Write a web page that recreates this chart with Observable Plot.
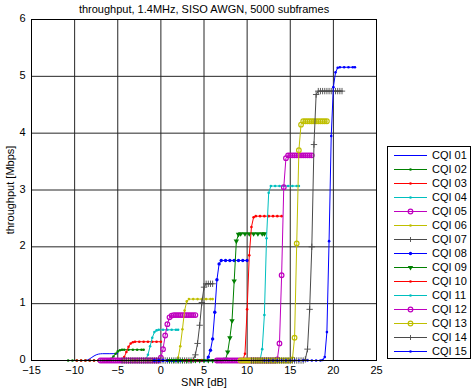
<!DOCTYPE html>
<html>
<head>
<meta charset="utf-8">
<script src="https://cdn.jsdelivr.net/npm/d3@7"></script>
<script src="https://cdn.jsdelivr.net/npm/@observablehq/plot@0.6"></script>
<style>
  html, body { margin: 0; padding: 0; background: white; }
  #wrap { position: relative; width: 474px; height: 391px; }
  #wrap svg { display: block; }
  #legend { position: absolute; left: 387px; top: 146px; }
</style>
</head>
<body>
<div id="wrap"></div>
<script>
// ---- data ----
const cqiNames = ["CQI 01","CQI 02","CQI 03","CQI 04","CQI 05","CQI 06","CQI 07","CQI 08","CQI 09","CQI 10","CQI 11","CQI 12","CQI 13","CQI 14","CQI 15"];
const xTicks = [-15, -10, -5, 0, 5, 10, 15, 20, 25];
const yTicks = [0, 1, 2, 3, 4, 5, 6];

// [SNR dB, throughput Mbps]
const cqi01 = [[-15,0],[-14,0],[-13,0],[-12,0],[-11,0],[-10,0],[-9,0],[-8.75,0.002],[-8.5,0.01],[-8.25,0.03],[-8,0.055],[-7.75,0.08],[-7.5,0.1],[-7.25,0.112],[-7,0.118],[-6.75,0.12],[-6,0.12],[-5,0.12]];
const cqi02 = [[-10.75,0],[-10.25,0],[-9.75,0],[-9.25,0],[-8.75,0],[-8.25,0],[-7.75,0],[-7.25,0],[-6.75,0],[-6.25,0],[-6,0.01],[-5.75,0.03],[-5.5,0.07],[-5.25,0.12],[-5,0.16],[-4.75,0.18],[-4.5,0.188],[-4.25,0.19],[-3.75,0.19],[-3.25,0.19],[-2.75,0.19],[-2.25,0.19],[-2,0.19]];
const cqi03 = [[-9.75,0],[-9.25,0],[-8.75,0],[-8.25,0],[-7.75,0],[-7.25,0],[-6.75,0],[-6.25,0],[-5.75,0],[-5.25,0],[-4.75,0],[-4.5,0.01],[-4.25,0.06],[-4,0.15],[-3.75,0.24],[-3.5,0.3],[-3.25,0.32],[-3,0.33],[-2.5,0.33],[-2,0.33],[-1.5,0.33],[-1,0.33],[-0.5,0.33],[0,0.33]];
const cqi04 = [[-7,0],[-6.5,0],[-6,0],[-5.5,0],[-5,0],[-4.5,0],[-4,0],[-3.5,0],[-3,0],[-2.5,0],[-2,0],[-1.75,0.02],[-1.5,0.1],[-1.25,0.25],[-1,0.4],[-0.75,0.5],[-0.5,0.53],[-0.25,0.54],[0.25,0.54],[0.75,0.54],[1.25,0.54],[1.75,0.54],[2,0.54]];
const cqi05 = [[-7,0],[-6.75,0],[-6.5,0],[-6.25,0],[-6,0],[-5.75,0],[-5.5,0],[-5.25,0],[-5,0],[-4.75,0],[-4.5,0],[-4.25,0],[-4,0],[-3.75,0],[-3.5,0],[-3.25,0],[-3,0],[-2.75,0],[-2.5,0],[-2.25,0],[-2,0],[-1.75,0],[-1.5,0],[-1.25,0],[-1,0],[-0.75,0],[-0.5,0],[-0.25,0],[0,0.05],[0.25,0.2],[0.5,0.44],[0.75,0.64],[1,0.76],[1.25,0.79],[1.5,0.8],[1.75,0.8],[2,0.8],[2.25,0.8],[2.5,0.8],[2.75,0.8],[3,0.8],[3.25,0.8],[3.5,0.8],[3.75,0.8],[4,0.8]];
const cqi06 = [[-4.25,0],[-3.75,0],[-3.25,0],[-2.75,0],[-2.25,0],[-1.75,0],[-1.25,0],[-0.75,0],[-0.25,0],[0.25,0],[0.75,0],[1.25,0],[1.75,0],[2,0.05],[2.25,0.25],[2.5,0.55],[2.75,0.88],[3,1.04],[3.25,1.08],[3.75,1.08],[4.25,1.08],[4.75,1.08],[5.25,1.08],[5.75,1.08],[6,1.08]];
const cqi07 = [[-4.5,0],[-4.25,0],[-4,0],[-3.75,0],[-3.5,0],[-3.25,0],[-3,0],[-2.75,0],[-2.5,0],[-2.25,0],[-2,0],[-1.75,0],[-1.5,0],[-1.25,0],[-1,0],[-0.75,0],[-0.5,0],[-0.25,0],[0,0],[0.25,0],[0.5,0],[0.75,0],[1,0],[1.25,0],[1.5,0],[1.75,0],[2,0],[2.25,0],[2.5,0],[2.75,0],[3,0],[3.25,0],[3.5,0],[3.75,0.01],[4,0.1],[4.25,0.3],[4.5,0.62],[4.75,1.02],[5,1.29],[5.25,1.35],[5.5,1.35],[5.75,1.35],[6,1.35]];
const cqi08 = [[-0.75,0],[-0.25,0],[0.25,0],[0.75,0],[1.25,0],[1.75,0],[2.25,0],[2.75,0],[3.25,0],[3.75,0],[4.25,0],[4.75,0],[5.25,0],[5.5,0.06],[5.75,0.18],[6,0.38],[6.25,0.85],[6.5,1.42],[6.75,1.7],[7,1.76],[7.5,1.76],[8,1.76],[8.5,1.76],[9,1.76],[9.5,1.76],[10,1.76]];
const cqi09 = [[1,0],[1.5,0],[2,0],[2.5,0],[3,0],[3.5,0],[4,0],[4.5,0],[5,0],[5.5,0],[6,0],[6.5,0],[7,0],[7.5,0.02],[7.75,0.15],[8,0.4],[8.25,0.7],[8.5,1.4],[8.75,2.1],[9,2.22],[9.25,2.23],[9.75,2.23],[10.25,2.23],[10.75,2.23],[11.25,2.23],[11.75,2.23],[12,2.23]];
const cqi10 = [[2.75,0],[3.25,0],[3.75,0],[4.25,0],[4.75,0],[5.25,0],[5.75,0],[6.25,0],[6.75,0],[7.25,0],[7.75,0],[8.25,0],[8.75,0],[9.25,0],[9.5,0.01],[9.75,0.12],[10,0.9],[10.25,1.85],[10.5,2.35],[10.75,2.52],[11,2.54],[11.5,2.54],[12,2.54],[12.5,2.54],[13,2.54],[13.5,2.54],[14,2.54]];
const cqi11 = [[5.25,0],[5.75,0],[6.25,0],[6.75,0],[7.25,0],[7.75,0],[8.25,0],[8.75,0],[9.25,0],[9.75,0],[10.25,0],[10.75,0],[11.25,0],[11.5,0.01],[11.75,0.2],[12,0.8],[12.25,2.15],[12.5,2.95],[12.75,3.07],[13.25,3.07],[13.75,3.07],[14.25,3.07],[14.75,3.07],[15.25,3.07],[15.75,3.07],[16,3.07]];
const cqi12 = [[6.5,0],[6.75,0],[7,0],[7.25,0],[7.5,0],[7.75,0],[8,0],[8.25,0],[8.5,0],[8.75,0],[9,0],[9.25,0],[9.5,0],[9.75,0],[10,0],[10.25,0],[10.5,0],[10.75,0],[11,0],[11.25,0],[11.5,0],[11.75,0],[12,0],[12.25,0],[12.5,0],[12.75,0],[13,0],[13.25,0],[13.5,0.02],[13.75,0.3],[14,1.5],[14.25,3.05],[14.5,3.56],[14.75,3.61],[15,3.61],[15.25,3.61],[15.5,3.61],[15.75,3.61],[16,3.61],[16.25,3.61],[16.5,3.61],[16.75,3.61],[17,3.61],[17.25,3.61],[17.5,3.61]];
const cqi13 = [[9.25,0],[9.5,0],[9.75,0],[10,0],[10.25,0],[10.5,0],[10.75,0],[11,0],[11.25,0],[11.5,0],[11.75,0],[12,0],[12.25,0],[12.5,0],[12.75,0],[13,0],[13.25,0],[13.5,0],[13.75,0],[14,0],[14.25,0],[14.5,0],[14.75,0],[15,0],[15.25,0.02],[15.5,0.4],[15.75,2.06],[16,3.7],[16.25,4.15],[16.5,4.21],[16.75,4.21],[17,4.21],[17.25,4.21],[17.5,4.21],[17.75,4.21],[18,4.21],[18.25,4.21],[18.5,4.21],[18.75,4.21],[19,4.21],[19.25,4.21]];
const cqi14 = [[10.5,0],[10.75,0],[11,0],[11.25,0],[11.5,0],[11.75,0],[12,0],[12.25,0],[12.5,0],[12.75,0],[13,0],[13.25,0],[13.5,0],[13.75,0],[14,0],[14.25,0],[14.5,0],[14.75,0],[15,0],[15.25,0],[15.5,0],[15.75,0],[16,0],[16.25,0],[16.5,0],[16.75,0.02],[17,0.2],[17.25,0.9],[17.5,2.0],[17.75,3.8],[18,4.68],[18.25,4.74],[18.5,4.74],[18.75,4.74],[19,4.74],[19.25,4.74],[19.5,4.74],[19.75,4.74],[20,4.74],[20.25,4.74],[20.5,4.74],[20.75,4.74],[21,4.74]];
const cqi15 = [[12,0],[12.5,0],[13,0],[13.5,0],[14,0],[14.5,0],[15,0],[15.5,0],[16,0],[16.5,0],[17,0],[17.5,0],[18,0],[18.5,0],[18.75,0.01],[19,0.06],[19.25,0.5],[19.5,2.1],[19.75,3.95],[20,4.81],[20.25,5.07],[20.5,5.15],[20.75,5.16],[21.25,5.16],[21.75,5.16],[22.25,5.16],[22.5,5.16]];

const seriesData = [cqi01,cqi02,cqi03,cqi04,cqi05,cqi06,cqi07,cqi08,cqi09,cqi10,cqi11,cqi12,cqi13,cqi14,cqi15];

// ---- styles ----
const colors = ["#0000ff","#008000","#ff0000","#00bfbf","#bf00bf","#bfbf00","#4a4a4a","#0000ff","#008000","#ff0000","#00bfbf","#bf00bf","#bfbf00","#4a4a4a","#0000ff"];
const markers = ["none","point","point","point","circle","point","plus","bigpoint","tridown","point","point","circle","circle","plus","point"];
const FONT = "'Liberation Sans', Arial, Helvetica, sans-serif";

function markerOpts(kind, color) {
  switch (kind) {
    case "point": return {r: 1.3, fill: color, stroke: null};
    case "bigpoint": return {r: 1.7, fill: color, stroke: null};
    case "circle": return {r: 2.3, fill: "none", stroke: color, strokeWidth: 1.2};
    case "plus": return {symbol: "plus", r: 2.2, stroke: color, strokeWidth: 0.9};
    case "tridown": return {symbol: "triangle", r: 2.0, fill: color, stroke: null, rotate: 180};
  }
  return null;
}

const curveMarks = [];
seriesData.forEach((data, i) => {
  const rows = data.map(([snr, tp]) => ({snr, tp, name: cqiNames[i]}));
  curveMarks.push(Plot.line(rows, {x: "snr", y: "tp", stroke: colors[i], strokeWidth: 1}));
  const mo = markerOpts(markers[i], colors[i]);
  if (mo) curveMarks.push(Plot.dot(rows, {x: "snr", y: "tp", ...mo}));
});

const chart = Plot.plot({
  width: 474,
  height: 391,
  marginTop: 19,
  marginBottom: 31,
  marginLeft: 31,
  marginRight: 98,
  style: {background: "white", fontFamily: FONT, fontSize: "11px", color: "black", overflow: "visible"},
  x: {domain: [-15, 25], ticks: xTicks, label: null},
  y: {domain: [0, 6], ticks: yTicks, label: null},
  marks: [
    Plot.gridX(xTicks, {stroke: "#262626", strokeOpacity: 1, strokeWidth: 1}),
    Plot.gridY(yTicks, {stroke: "#262626", strokeOpacity: 1, strokeWidth: 1}),
    ...curveMarks,
    Plot.frame({stroke: "black", strokeWidth: 1}),
    Plot.axisX(xTicks, {tickSize: 0, tickPadding: 6, label: null, fontSize: 11, tickFormat: d3.format("d")}),
    Plot.axisY(yTicks, {tickSize: 0, tickPadding: 6, label: null, fontSize: 11, tickFormat: d3.format("d"), dy: -1}),
    Plot.text(["throughput, 1.4MHz, SISO AWGN, 5000 subframes"], {frameAnchor: "top", dy: -10, lineAnchor: "middle", textAnchor: "middle", fontSize: 11, fill: "black"}),
    Plot.text(["SNR [dB]"], {frameAnchor: "bottom", dy: 22, lineAnchor: "middle", textAnchor: "middle", fontSize: 11, fill: "black"}),
    Plot.text(["throughput [Mbps]"], {frameAnchor: "left", dx: -21, rotate: -90, lineAnchor: "middle", textAnchor: "middle", fontSize: 11, fill: "black"})
  ]
});
document.getElementById("wrap").appendChild(chart);

// ---- legend ----
const LW = 83, LH = 212, rowH = 14, y0 = 9;
const leg = d3.select("#wrap").append("svg")
  .attr("id", "legend").attr("width", LW + 1).attr("height", LH + 1)
  .style("font-family", FONT).style("font-size", "11px");
leg.append("rect").attr("x", 0.5).attr("y", 0.5).attr("width", LW).attr("height", LH)
  .attr("fill", "white").attr("stroke", "black");
cqiNames.forEach((name, i) => {
  const cy = y0 + rowH * i + 0.5;
  const g = leg.append("g");
  g.append("line").attr("x1", 7).attr("x2", 40).attr("y1", cy).attr("y2", cy)
    .attr("stroke", colors[i]).attr("stroke-width", 1);
  const cx = 23.5, k = markers[i], c = colors[i];
  if (k === "point") g.append("circle").attr("cx", cx).attr("cy", cy).attr("r", 1.3).attr("fill", c);
  if (k === "bigpoint") g.append("circle").attr("cx", cx).attr("cy", cy).attr("r", 1.7).attr("fill", c);
  if (k === "circle") g.append("circle").attr("cx", cx).attr("cy", cy).attr("r", 2.3).attr("fill", "none").attr("stroke", c).attr("stroke-width", 1.2);
  if (k === "plus") g.append("path").attr("d", `M${cx-2.5},${cy}h5M${cx},${cy-2.5}v5`).attr("stroke", c).attr("stroke-width", 0.9);
  if (k === "tridown") g.append("path").attr("transform", `translate(${cx},${cy}) rotate(180)`).attr("d", d3.symbol(d3.symbolTriangle, Math.PI * 4)()).attr("fill", c);
  g.append("text").attr("x", 45).attr("y", cy).attr("dy", "0.35em").attr("fill", "black").text(name);
});
</script>
</body>
</html>
